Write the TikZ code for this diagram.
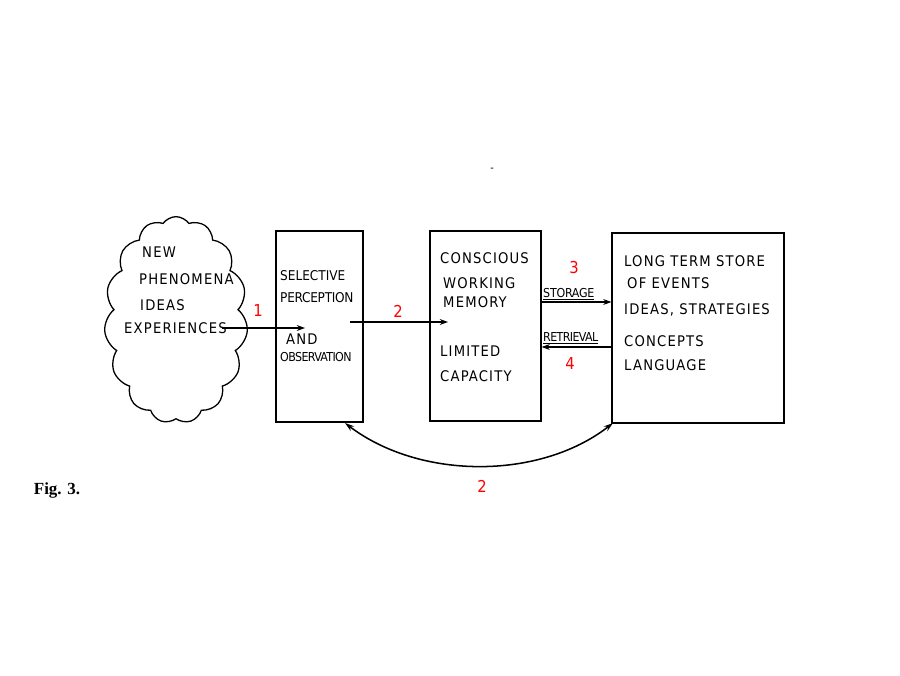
\documentclass[tikz,border=0pt]{standalone}
\usepackage{fontspec}
\setmainfont{DejaVu Sans Condensed}[LetterSpace=8]
\newfontfamily\figfont{Liberation Serif}
\usetikzlibrary{shapes.symbols,arrows.meta}
\begin{document}
\begin{tikzpicture}[x=0.03cm,y=-0.03cm,
  box/.style={draw,line width=1pt,inner sep=0pt},
  txt/.style={anchor=west,font=\fontsize{12.5}{14}\selectfont,inner sep=0pt},
  num/.style={text=red,font=\fontsize{14}{15}\selectfont,inner sep=0pt},
  arr/.style={line width=1pt,-{Stealth[length=7pt,width=5pt]}}]
\useasboundingbox (0,0) rectangle (900,675);
\node[draw,line width=1.1pt,cloud,cloud puffs=15,cloud puff arc=110,aspect=0.65,minimum width=4.3cm,minimum height=6.2cm] (cl) at (176,320) {};
\node[box,minimum width=2.61cm,minimum height=5.73cm] (b1) at (319.5,326.5) {};
\node[box,minimum width=3.33cm,minimum height=5.7cm] (b2) at (485.5,326) {};
\node[box,minimum width=5.16cm,minimum height=5.7cm] (b3) at (698,328) {};
\node[txt] (t1) at (142,252) {NEW};
\node[txt] (t2) at (139,279) {PHENOMENA};
\node[txt] (t3) at (140,305) {IDEAS};
\node[txt] (t4) at (124,328) {EXPERIENCES};
\node[txt,font=\fontsize{11.5}{12}\selectfont\addfontfeature{LetterSpace=0}] (s1) at (280,276) {SELECTIVE};
\node[txt,font=\fontsize{11.5}{12}\selectfont\addfontfeature{LetterSpace=-2}] (s2) at (280,298) {PERCEPTION};
\node[txt] (s3) at (286,339) {AND};
\node[txt,font=\fontsize{10.5}{12}\selectfont\addfontfeature{LetterSpace=-5}] (s4) at (280,357) {OBSERVATION};
\node[txt] (c1) at (440,258) {CONSCIOUS};
\node[txt] (c2) at (443,283) {WORKING};
\node[txt] (c3) at (443,302) {MEMORY};
\node[txt] (c4) at (440,351) {LIMITED};
\node[txt] (c5) at (440,376) {CAPACITY};
\node[txt] (l1) at (624,261) {LONG TERM STORE};
\node[txt] (l2) at (627,283) {OF EVENTS};
\node[txt] (l3) at (624,310) {IDEAS, STRATEGIES};
\node[txt] (l4) at (624,341) {CONCEPTS};
\node[txt] (l5) at (624,365) {LANGUAGE};
\node[txt,font=\fontsize{10.5}{11}\selectfont\addfontfeature{LetterSpace=-2}] (st) at (543,294) {\underline{STORAGE}};
\node[txt,font=\fontsize{10.5}{11}\selectfont\addfontfeature{LetterSpace=-5}] (re) at (543,338) {\underline{RETRIEVAL}};
\coordinate (a1s) at (222,328); \coordinate (a1e) at (305,328);
\coordinate (a2s) at (350,322); \coordinate (a2e) at (448,322);
\draw[arr] (a1s) -- (a1e);
\draw[arr] (a2s) -- (a2e);
\draw[arr] (b2.east |- 0,302) -- (b3.west |- 0,302);
\draw[arr] (b3.west |- 0,347) -- (b2.east |- 0,347);
\coordinate (cs) at (345,423); \coordinate (ce) at (613,423);
\draw[line width=1.3pt,{Stealth[length=8pt,width=5pt]}-{Stealth[length=8pt,width=5pt]}] (cs) .. controls (420,480) and (540,480) .. (ce);
\node[num] (n1) at (258,311) {1};
\node[num] (n2) at (398,311) {2};
\node[num] (n3) at (574,268) {3};
\node[num] (n4) at (570,364) {4};
\node[num] (n5) at (482,486) {2};
\node[font=\figfont\bfseries\fontsize{14.5}{15}\selectfont,inner sep=0pt] (fig) at (57,490) {Fig. 3.};
\node[font=\small,inner sep=0pt] (dash) at (492,170) {-};
\end{tikzpicture}
\end{document}
